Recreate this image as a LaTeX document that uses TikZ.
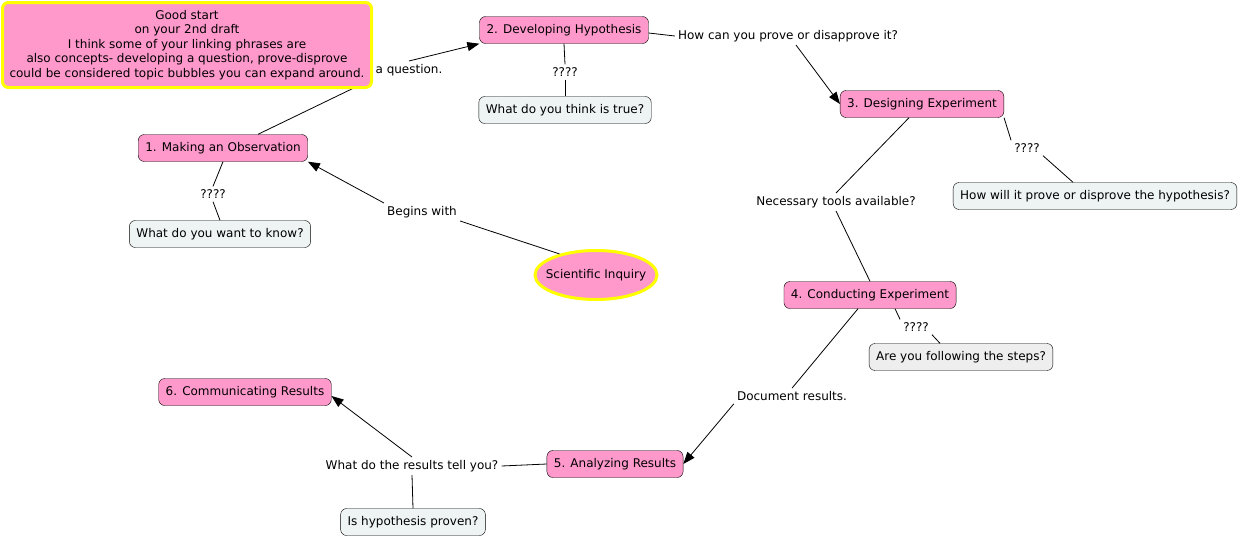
\documentclass[tikz,border=0pt]{standalone}
\usepackage{fontspec}
\setmainfont{DejaVu Sans}
\usetikzlibrary{arrows.meta,shapes.geometric}
\definecolor{conceptpink}{RGB}{255,153,204}
\definecolor{answerblue}{RGB}{238,244,244}
\definecolor{answergrey}{RGB}{238,238,238}
\definecolor{noteyellow}{RGB}{255,255,0}
\tikzset{
  concept/.style={draw=black, fill=conceptpink, rounded corners=6pt, minimum height=27pt, inner xsep=7pt, font=\fontsize{12}{14.5}\selectfont},
  answer/.style={concept, fill=answerblue},
  linking/.style={inner sep=3pt, font=\fontsize{12}{14.5}\selectfont},
  link/.style={draw=black, line width=0.8pt},
  linkarrow/.style={link, -{Triangle[length=12pt, width=9pt]}}
}
\begin{document}
\begin{tikzpicture}[x=1pt, y=-1pt]
  \useasboundingbox (0,0) rectangle (1242,539);
  % 1. concept nodes
  \node[concept] (obs) at (223,148) {1. Making an Observation};
  \node[concept] (dev) at (564,30) {2. Developing Hypothesis};
  \node[concept] (des) at (922,104) {3. Designing Experiment};
  \node[concept] (con) at (870,295) {4. Conducting Experiment};
  \node[concept] (ana) at (615,464) {5. Analyzing Results};
  \node[concept] (com) at (245,392) {6. Communicating Results};
  \node[ellipse, draw=noteyellow, line width=3pt, fill=conceptpink, inner xsep=-7pt, inner ysep=3pt, minimum height=49pt, font=\fontsize{12}{14.5}\selectfont] (inq) at (596,275) {Scientific Inquiry};

  % 2. answer nodes
  \node[answer] (know) at (220,234) {What do you want to know?};
  \node[answer] (true) at (565,110) {What do you think is true?};
  \node[answer] (prove) at (1095,196) {How will it prove or disprove the hypothesis?};
  \node[answer, fill=answergrey] (steps) at (961,357) {Are you following the steps?};
  \node[answer] (proven) at (413,522) {Is hypothesis proven?};

  % 3. linking phrases
  \node[linking] (lbegin) at (422,212) {Begins with};
  \node[linking] (lquest) at (409,70) {a question.};
  \node[linking] (lhow) at (788,36) {How can you prove or disapprove it?};
  \node[linking] (ltools) at (836,202) {Necessary tools available?};
  \node[linking] (ldoc) at (792,396) {Document results.};
  \node[linking] (ltell) at (412,466) {What do the results tell you?};
  \node[linking] (q1) at (213,194) {????};
  \node[linking] (q2) at (565,72) {????};
  \node[linking] (q3) at (1027,148) {????};
  \node[linking] (q4) at (916,327) {????};

  % 4. connectors
  \draw[link] (inq.150) -- (lbegin.south east);
  \draw[linkarrow] (lbegin.north west) -- (obs.south east);
  \draw[link] ([xshift=35pt]obs.north) -- (lquest.south west);
  \draw[linkarrow] (lquest.north) -- (dev.south west);
  \draw[link] ([yshift=-3pt]dev.east) -- (lhow.west);
  \draw[linkarrow] ([xshift=8pt]lhow.south) -- (des.west);
  \draw[link] ([xshift=-13pt]des.south) -- (ltools.north);
  \draw[link] (ltools.south) -- (con.north);
  \draw[link] ([xshift=-12pt]con.south) -- (ldoc.north);
  \draw[linkarrow] (ldoc.south west) -- (ana.east);
  \draw[link] (ana.west) -- (ltell.east);
  \draw[linkarrow] (ltell.north) -- ([yshift=-4pt]com.east);
  \draw[link] (ltell.south) -- (proven.north);
  \draw[link] (obs.south) -- (q1.north);
  \draw[link] (q1.south) -- (know.north);
  \draw[link] (dev.south) -- (q2.north);
  \draw[link] (q2.south) -- (true.north);
  \draw[link] (des.south east) -- (q3.north west);
  \draw[link] (q3.south east) -- ([xshift=-22pt]prove.north);
  \draw[link] ([xshift=25pt]con.south) -- (q4.north west);
  \draw[link] (q4.south east) -- ([xshift=-21pt]steps.north);

  % 5. reviewer note (on top)
  \node[draw=noteyellow, line width=3pt, fill=conceptpink, rounded corners=6pt, minimum width=369pt, minimum height=85pt, align=center, font=\fontsize{12}{14.5}\selectfont] (note) at (187,45) {Good start\\on your 2nd draft\\I think some of your linking phrases are\\also concepts- developing a question, prove-disprove\\could be considered topic bubbles you can expand around.};
\end{tikzpicture}
\end{document}
